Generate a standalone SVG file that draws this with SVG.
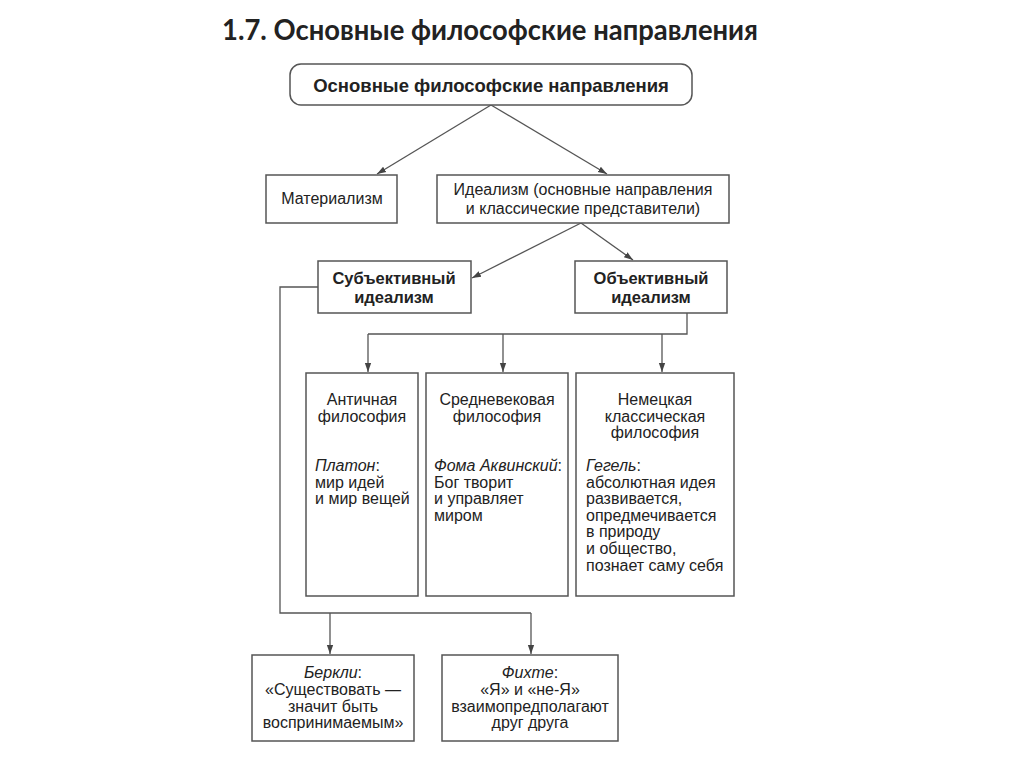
<svg xmlns="http://www.w3.org/2000/svg" width="1024" height="768" viewBox="0 0 1024 768">
<defs>
<style>
.box{fill:#fff;stroke:#555;stroke-width:1.5}
.t{font-family:"Liberation Sans",Arial,sans-serif;font-size:16px;fill:#222}
.c{text-anchor:middle}
.b{font-weight:bold;font-size:16.5px}
.i{font-style:italic}
.ln{fill:none;stroke:#555;stroke-width:1.3}
</style>
<marker id="ah" viewBox="0 0 10 10" refX="10" refY="5" markerWidth="9" markerHeight="9" markerUnits="userSpaceOnUse" orient="auto">
<path d="M0,1.5 L10,5 L0,8.5 Z" fill="#444"/>
</marker>
</defs>
<rect width="1024" height="768" fill="#fff"/>
<text x="222" y="40" textLength="536" lengthAdjust="spacingAndGlyphs" style="font-family:Lato,'Open Sans',sans-serif;font-weight:bold;font-size:29px;fill:#222">1.7. Основные философские направления</text>

<g id="connectors">
<path class="ln" marker-end="url(#ah)" d="M491,105 L377,174"/>
<path class="ln" marker-end="url(#ah)" d="M491,105 L607,174"/>
<path class="ln" marker-end="url(#ah)" d="M581,223 L472,278"/>
<path class="ln" marker-end="url(#ah)" d="M581,223 L633,260"/>
<path class="ln" d="M687,313 L687,334 L368,334"/>
<path class="ln" marker-end="url(#ah)" d="M368,334 L368,372"/>
<path class="ln" marker-end="url(#ah)" d="M503,334 L503,372"/>
<path class="ln" marker-end="url(#ah)" d="M662,334 L662,372"/>
<path class="ln" d="M318,287 L280,287 L280,613 L531,613"/>
<path class="ln" marker-end="url(#ah)" d="M330,613 L330,654"/>
<path class="ln" marker-end="url(#ah)" d="M531,613 L531,654"/>
</g>

<g id="root">
<rect class="box" x="290" y="64" width="402" height="41" rx="11"/>
<text class="t c b" x="491" y="92" style="font-size:18.5px">Основные философские направления</text>
</g>

<g id="materialism">
<rect class="box" x="266" y="175" width="131" height="48"/>
<text class="t c" x="332" y="204">Материализм</text>
</g>

<g id="idealism">
<rect class="box" x="437" y="175" width="292" height="48"/>
<text class="t c" x="583" y="195">Идеализм (основные направления</text>
<text class="t c" x="583" y="214">и классические представители)</text>
</g>

<g id="subjective">
<rect class="box" x="318" y="261" width="153" height="52"/>
<text class="t c b" x="394" y="284">Субъективный</text>
<text class="t c b" x="394" y="303">идеализм</text>
</g>

<g id="objective">
<rect class="box" x="575" y="261" width="152" height="52"/>
<text class="t c b" x="651" y="284">Объективный</text>
<text class="t c b" x="651" y="303">идеализм</text>
</g>

<g id="antique">
<rect class="box" x="306" y="373" width="112" height="223"/>
<text class="t c" x="362" y="405">Античная</text>
<text class="t c" x="362" y="422">философия</text>
<text class="t" x="315" y="471"><tspan class="i">Платон</tspan>:</text>
<text class="t" x="315" y="488">мир идей</text>
<text class="t" x="315" y="504">и мир вещей</text>
</g>

<g id="medieval">
<rect class="box" x="426" y="373" width="142" height="223"/>
<text class="t c" x="497" y="405">Средневековая</text>
<text class="t c" x="497" y="422">философия</text>
<text class="t" x="434" y="471"><tspan class="i">Фома Аквинский</tspan>:</text>
<text class="t" x="434" y="488">Бог творит</text>
<text class="t" x="434" y="504">и управляет</text>
<text class="t" x="434" y="521">миром</text>
</g>

<g id="german">
<rect class="box" x="576" y="373" width="158" height="223"/>
<text class="t c" x="655" y="405">Немецкая</text>
<text class="t c" x="655" y="422">классическая</text>
<text class="t c" x="655" y="438">философия</text>
<text class="t" x="586" y="471"><tspan class="i">Гегель</tspan>:</text>
<text class="t" x="586" y="488">абсолютная идея</text>
<text class="t" x="586" y="504">развивается,</text>
<text class="t" x="586" y="521">опредмечивается</text>
<text class="t" x="586" y="537">в природу</text>
<text class="t" x="586" y="554">и общество,</text>
<text class="t" x="586" y="571">познает саму себя</text>
</g>

<g id="berkeley">
<rect class="box" x="252" y="655" width="162" height="86"/>
<text class="t c i" x="333" y="678">Беркли<tspan style="font-style:normal">:</tspan></text>
<text class="t c" x="333" y="695">«Существовать —</text>
<text class="t c" x="333" y="712">значит быть</text>
<text class="t c" x="333" y="728">воспринимаемым»</text>
</g>

<g id="fichte">
<rect class="box" x="442" y="655" width="176" height="86"/>
<text class="t c i" x="530" y="678">Фихте<tspan style="font-style:normal">:</tspan></text>
<text class="t c" x="530" y="695">«Я» и «не-Я»</text>
<text class="t c" x="530" y="712">взаимопредполагают</text>
<text class="t c" x="530" y="728">друг друга</text>
</g>
</svg>
